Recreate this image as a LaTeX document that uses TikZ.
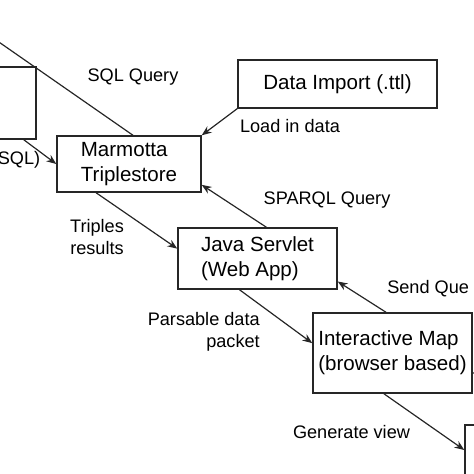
\documentclass[tikz,border=0pt]{standalone}
\usepackage{fontspec}
\setmainfont{Liberation Sans}
\usetikzlibrary{arrows.meta,calc}

\begin{document}
\begin{tikzpicture}[x=0.025cm,y=-0.025cm]
    \tikzstyle{block}=[draw=black!85, line width=1pt, inner sep=0pt, align=left, font=\fontsize{14.6}{17.8}\selectfont]
    \tikzstyle{note}=[inner sep=0pt, font=\fontsize{12.9}{15.6}\selectfont]
    \tikzstyle{flow}=[draw=black!85, line width=0.85pt, -{Stealth[length=7pt,width=5.5pt]}]
    \tikzstyle{plain}=[draw=black!85, line width=0.85pt]

    \useasboundingbox (0,0) rectangle (474,474);
    \clip (0,0) rectangle (474,474);

    % boxes
    \node[block, minimum width=102.4pt, minimum height=51.2pt] (db) at (-36,103) {};
    \node[block, minimum width=102.4pt, minimum height=39.8pt] (marmotta) at (129,164) {Marmotta\\Triplestore};
    \node[block, minimum width=141.6pt, minimum height=34.1pt] (import) at (337.5,84) {Data Import (.ttl)};
    \node[block, minimum width=113.1pt, minimum height=43.4pt] (servlet) at (257.5,258.5) {Java Servlet\\(Web App)};
    \node[block, minimum width=113.1pt, minimum height=56.9pt] (map) at (392.5,353) {Interactive Map\\(browser based)};
    \node[block, minimum width=78.2pt, minimum height=35.6pt] (view) at (520,450) {};

    % loose ends
    \coordinate (sqlsrc) at (-40,15);
    \coordinate (mapout) at (500,373);

    % labels
    \node[note] (sqlq) at (133,77) {SQL Query};
    \node[note, anchor=east] (dblbl) at (40.5,160) {SQL)};
    \node[note] (load) at (290,126) {Load in data};
    \node[note] (sparql) at (327,200) {SPARQL Query};
    \node[note, align=center] (triples) at (97,237) {Triples\\results};
    \node[note, align=right, anchor=east] (parsable) at (260,332) {Parsable data\\packet};
    \node[note, anchor=west] (send) at (387,289) {Send Que};
    \node[note] (gen) at (351.5,432) {Generate view};

    % connectors
    \draw[plain] (sqlsrc) -- (marmotta.82);
    \draw[flow] ($(db.south east)+(-13,0)$) -- (marmotta.west);
    \draw[flow] (import.south west) -- (marmotta.north east);
    \draw[flow] (servlet.74) -- (marmotta.-16);
    \draw[flow] (marmotta.221) -- (servlet.173);
    \draw[flow] (map.99) -- (servlet.-16);
    \draw[flow] (servlet.240) -- (map.173);
    \draw[flow] (map.258) -- (view.west);
    \draw[plain] (map.-14) -- (mapout);

\end{tikzpicture}
\end{document}
